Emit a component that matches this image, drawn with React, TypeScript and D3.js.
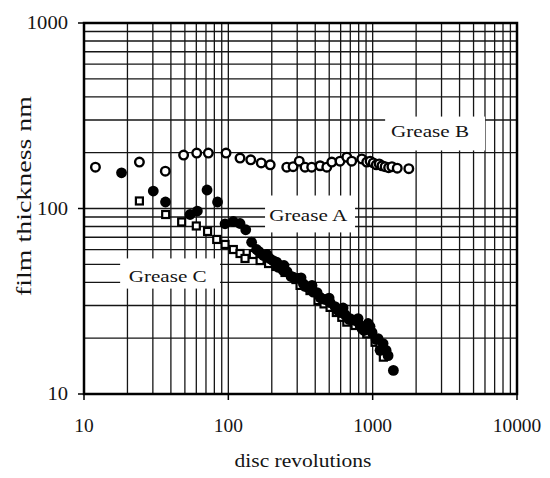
import React from "react";
import * as d3 from "d3";

// ---- data ----
const greaseBX = [12, 24.2, 36.6, 49, 60.4, 72.7, 96.4, 120.5, 143, 169, 195, 254, 281, 310, 340, 378, 432, 481, 521, 594, 662, 716, 841, 910, 960, 1010, 1060, 1110, 1160, 1220, 1290, 1360, 1480, 1780];
const greaseBY = [167, 178, 159, 194, 199, 199, 199, 187, 183, 176, 172, 167, 168, 180, 167, 167, 170, 167, 178, 180, 189, 180, 185, 178, 180, 176, 172, 174, 170, 168, 166, 168, 165, 164];

const greaseAX = [18.2, 30.2, 36.7, 54.3, 61, 71.2, 84.2, 94.9, 108.3, 120.5, 132, 145, 157, 163, 175, 185.5, 194.5, 204, 216, 221, 228, 240, 243, 255, 272, 282, 304, 319, 331, 340, 357, 380, 388, 412, 432, 446, 468, 499, 507, 549, 576, 594, 624, 644, 686, 697, 755, 792, 818, 844, 872, 929, 959, 990, 1056, 1090, 1125, 1181, 1239, 1279, 1392];
const greaseAY = [155.8, 124.2, 108.4, 92.8, 96.9, 125.8, 108.4, 82.7, 85.1, 83, 76.8, 65.8, 60.1, 58.6, 55.8, 56.5, 53.6, 52.4, 51.4, 48.2, 49.3, 46.3, 49.3, 45.7, 43, 42.6, 42, 42.3, 39.3, 38, 37.5, 38.5, 35.4, 35.2, 33.2, 32.6, 32.3, 32.9, 31.1, 29.6, 28.2, 27.5, 29.1, 26.8, 25.2, 25.5, 24.9, 25.5, 23.4, 22.5, 22, 24, 23.1, 21.5, 19.7, 19.9, 17.2, 18.7, 17.2, 16.1, 13.4];

const greaseCX = [24.2, 36.8, 47.5, 60, 71.8, 83.1, 94.9, 108.3, 120.5, 130.5, 149, 166, 190, 214, 247, 294, 314, 368, 418, 460, 507, 560, 611, 662, 755, 910, 1039, 1125, 1186];
const greaseCY = [109.8, 92.8, 84.6, 80.5, 75.2, 68.1, 64, 60.1, 57.2, 53.8, 56.5, 52.4, 50.5, 48.7, 45.2, 41.4, 38.5, 36.1, 31.9, 30.6, 29.3, 27.5, 25.9, 24.4, 23.4, 21.1, 19, 18.3, 15.8];

const xTicks = [10, 100, 1000, 10000];
const yTicks = [10, 100, 1000];
const xTickLabels = ["10", "100", "1000", "10000"];
const yTickLabels = ["10", "100", "1000"];

const labels = [
  { text: "Grease B", x: 1341, y: 241.5, box: [1220, 6010, 313, 205.5] },
  { text: "Grease A", x: 192, y: 85.1, box: [179.6, 755, 117.5, 74.3] },
  { text: "Grease C", x: 20.4, y: 40.4, box: [17.8, 87.6, 53.8, 37] },
];

const W = 550;
const H = 478;
const margin = { left: 84, right: 33, top: 23, bottom: 84 };
const FONT = "'Liberation Serif', 'DejaVu Serif', serif";
const TXT = "#141414";

export default function App() {
  const x = d3.scaleLog().domain([10, 10000]).range([margin.left, W - margin.right]);
  const y = d3.scaleLog().domain([10, 1000]).range([H - margin.bottom, margin.top]);

  const minorX: number[] = [];
  for (const dec of [10, 100, 1000]) for (let k = 2; k <= 9; k++) minorX.push(dec * k);
  const minorY: number[] = [];
  for (const dec of [10, 100]) for (let k = 2; k <= 9; k++) minorY.push(dec * k);

  const x0 = x(10), x1 = x(10000), y0 = y(10), y1 = y(1000);
  const sq = 7;

  return (
    <svg width={W} height={H} style={{ position: "absolute", left: 0, top: 0, background: "#fff" }} fontFamily={FONT}>
      <rect width={W} height={H} fill="#fff" />
      {/* grid */}
      <g stroke="#151515" strokeWidth={1.3}>
        {[...minorX, 100, 1000].map((v, i) => (
          <line key={"gx" + i} x1={x(v)} x2={x(v)} y1={y0} y2={y1} />
        ))}
        {[...minorY, 100].map((v, i) => (
          <line key={"gy" + i} x1={x0} x2={x1} y1={y(v)} y2={y(v)} />
        ))}
      </g>
      {/* label boxes */}
      {labels.map((l, i) => (
        <rect key={"lb" + i} x={x(l.box[0])} y={y(l.box[2])} width={x(l.box[1]) - x(l.box[0])} height={y(l.box[3]) - y(l.box[2])} fill="#fff" />
      ))}
      {labels.map((l, i) => (
        <text key={"lt" + i} x={x(l.x)} y={y(l.y)} fontSize={17.5} textLength={78} lengthAdjust="spacingAndGlyphs" fill={TXT}>{l.text}</text>
      ))}
      {/* frame */}
      <rect x={x0} y={y1} width={x1 - x0} height={y0 - y1} fill="none" stroke="#000" strokeWidth={2.5} />
      {/* ticks */}
      <g stroke="#000" strokeWidth={1.5}>
        {yTicks.map((v, i) => (
          <line key={"ty" + i} x1={x0 - 6} x2={x0} y1={y(v)} y2={y(v)} />
        ))}
        {xTicks.map((v, i) => (
          <line key={"tx" + i} x1={x(v)} x2={x(v)} y1={y0} y2={y0 + 6} />
        ))}
      </g>
      {yTicks.map((v, i) => (
        <text key={"yl" + i} x={x0 - 16} y={y(v)} dy="0.35em" textAnchor="end" fontSize={18} textLength={yTickLabels[i].length * 10.3} lengthAdjust="spacingAndGlyphs" fill={TXT}>{yTickLabels[i]}</text>
      ))}
      {xTicks.map((v, i) => (
        <text key={"xl" + i} x={x(v)} y={432} textAnchor="middle" fontSize={18} textLength={xTickLabels[i].length * 9.7} lengthAdjust="spacingAndGlyphs" fill={TXT}>{xTickLabels[i]}</text>
      ))}
      <text x={303} y={467} textAnchor="middle" fontSize={18.5} textLength={137} lengthAdjust="spacingAndGlyphs" fill={TXT}>disc revolutions</text>
      <text transform={`translate(31, 196) rotate(-90)`} textAnchor="middle" fontSize={20} textLength={200} lengthAdjust="spacingAndGlyphs" fill={TXT}>film thickness nm</text>

      {/* Grease B open circles */}
      {greaseBX.map((v, i) => (
        <circle key={"b" + i} cx={x(v)} cy={y(greaseBY[i])} r={4.3} fill="#fff" stroke="#000" strokeWidth={2.4} />
      ))}
      {/* Grease C open squares */}
      {greaseCX.map((v, i) => (
        <rect key={"c" + i} x={x(v) - sq / 2} y={y(greaseCY[i]) - sq / 2} width={sq} height={sq} fill="#fff" stroke="#000" strokeWidth={2.2} />
      ))}
      {/* Grease A filled circles */}
      {greaseAX.map((v, i) => (
        <circle key={"a" + i} cx={x(v)} cy={y(greaseAY[i])} r={5.4} fill="#000" />
      ))}
    </svg>
  );
}
